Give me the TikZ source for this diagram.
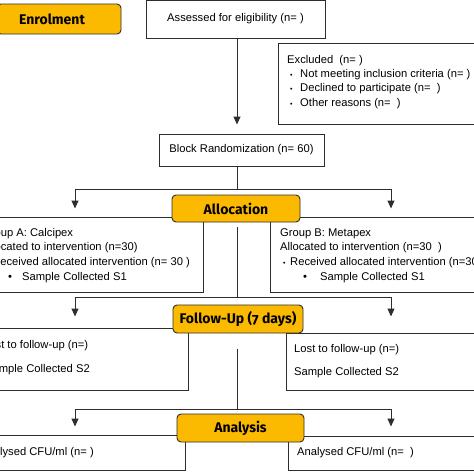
\documentclass[tikz,border=0pt]{standalone}
\usepackage{fontspec}
\setmainfont{Liberation Sans}
\newfontfamily\headfont[Numbers=OldStyle]{Fira Sans}
\usetikzlibrary{arrows.meta,calc}
\definecolor{orng}{RGB}{251,186,0}
\definecolor{ln}{RGB}{45,45,45}
\begin{document}
\begin{tikzpicture}[x=1pt,y=-1pt,
  box/.style={draw=ln, line width=1pt, fill=white, inner sep=0pt},
  stage/.style={draw=ln, line width=0.9pt, fill=orng, rounded corners=4pt, inner sep=0pt,
    font=\headfont\bfseries\fontsize{14}{16}\selectfont},
  stagetxt/.style={inner sep=0pt, font=\headfont\bfseries\fontsize{14}{16}\selectfont},
  txt/.style={anchor=base west, inner sep=0pt, font=\fontsize{11.2}{13}\selectfont},
  sbul/.style={anchor=base west, inner sep=0pt, font=\fontsize{7}{8}\selectfont},
  bbul/.style={anchor=base west, inner sep=0pt, font=\fontsize{11.2}{13}\selectfont},
  conn/.style={draw=ln, line width=1pt},
  arr/.style={conn, -{Triangle[length=8pt,width=7pt]}}]
\clip (0,0) rectangle (474,474);
\fill[white] (0,0) rectangle (474,474);

% boxes
\node[box, minimum width=179, minimum height=38, font=\fontsize{11.2}{13}\selectfont] (assess) at (235.5,19) {Assessed for eligibility (n= )};
\node[box, minimum width=222, minimum height=81] (excl) at (389,83.5) {};
\node[box, minimum width=165, minimum height=32, font=\fontsize{11.2}{13}\selectfont] (block) at (241.5,150) {Block Randomization (n= 60)};
\node[box, minimum width=233, minimum height=75] (grpA) at (86.5,254.5) {};
\node[box, minimum width=230, minimum height=75] (grpB) at (385,254.5) {};
\node[box, minimum width=218, minimum height=62] (lostA) at (79,359) {};
\node[box, minimum width=214, minimum height=57] (lostB) at (393,361.5) {};
\node[box, minimum width=215, minimum height=35] (anA) at (77.5,452.5) {};
\node[box, minimum width=212, minimum height=34] (anB) at (394,453) {};

% excluded text
\node[txt] (ex0) at (287,63) {Excluded\ \ (n= )};
\node[sbul] (exb1) at (290,77) {•};
\node[txt] (ex1) at (300,77) {Not meeting inclusion criteria (n= )};
\node[sbul] (exb2) at (290,91) {•};
\node[txt] (ex2) at (300,91) {Declined to participate (n=\ \ )};
\node[sbul] (exb3) at (290,106) {•};
\node[txt] (ex3) at (300,106) {Other reasons (n=\ \ )};

% group A text
\node[txt] (ga0) at (-18,236) {Group A: Calcipex};
\node[txt] (ga1) at (-18,250) {Allocated to intervention (n=30)};
\node[sbul] (gab2) at (-15,265) {•};
\node[txt] (ga2) at (-8,265) {Received allocated intervention (n= 30 )};
\node[bbul] (gab3) at (8,280) {•};
\node[txt] (ga3) at (22,280) {Sample Collected S1};

% group B text
\node[txt] (gb0) at (280,236) {Group B: Metapex};
\node[txt] (gb1) at (280,250) {Allocated to intervention (n=30\ \ )};
\node[sbul] (gbb2) at (283,265) {•};
\node[txt] (gb2) at (290,265) {Received allocated intervention (n=30 )};
\node[bbul] (gbb3) at (303,280) {•};
\node[txt] (gb3) at (320,280) {Sample Collected S1};

% follow-up text
\node[txt] (la0) at (-17,348) {Lost to follow-up (n=)};
\node[txt] (la1) at (-15,372) {Sample Collected S2};
\node[txt] (lb0) at (294,352) {Lost to follow-up (n=)};
\node[txt] (lb1) at (294,375) {Sample Collected S2};

% analysis text
\node[txt] (aa0) at (-20,455) {Analysed CFU/ml (n= )};
\node[txt] (ab0) at (297,455) {Analysed CFU/ml (n=\ \ )};

% connectors
\coordinate (c0) at (237,38);
\draw[arr, shorten >=9pt] (c0) -- (c0 |- block.north);

\coordinate (s1) at (237,189);
\coordinate (s1L) at (75,189);
\coordinate (s1R) at (391,189);
\draw[conn] (block.south -| s1) -- (s1);
\draw[conn] (s1L) -- (s1R);
\draw[arr, shorten >=8pt] (s1L) -- (s1L |- grpA.north);
\draw[arr, shorten >=8pt] (s1R) -- (s1R |- grpB.north);

\coordinate (s2) at (237,297);
\coordinate (s2L) at (75,297);
\coordinate (s2R) at (391,297);
\coordinate (a2) at (237,222);
\draw[conn, shorten <=5pt] (a2) -- (s2);
\draw[conn] (s2L) -- (s2R);
\draw[arr, shorten >=11pt] (s2L) -- (s2L |- lostA.north);
\draw[arr, shorten >=16pt] (s2R) -- (s2R |- lostB.north);

\coordinate (s3) at (237,409);
\coordinate (s3L) at (75,409);
\coordinate (s3R) at (391,409);
\coordinate (a3) at (237,333);
\draw[conn, shorten <=16pt] (a3) -- (s3);
\draw[conn] (s3L) -- (s3R);
\draw[arr, shorten >=8pt] (s3L) -- (s3L |- anA.north);
\draw[arr, shorten >=9pt] (s3R) -- (s3R |- anB.north);

% stage labels
\node[stage, minimum width=124, minimum height=30] (enrol) at (59,19) {};
\node[stagetxt] (enroltxt) at (52,19) {Enrolment};
\node[stage, minimum width=128, minimum height=27] (alloc) at (236,208.5) {Allocation};
\node[stage, minimum width=130, minimum height=28] (fu) at (238,319) {Follow-Up (7 days)};
\node[stage, minimum width=127, minimum height=28] (anal) at (240.5,428) {Analysis};
\end{tikzpicture}
\end{document}
